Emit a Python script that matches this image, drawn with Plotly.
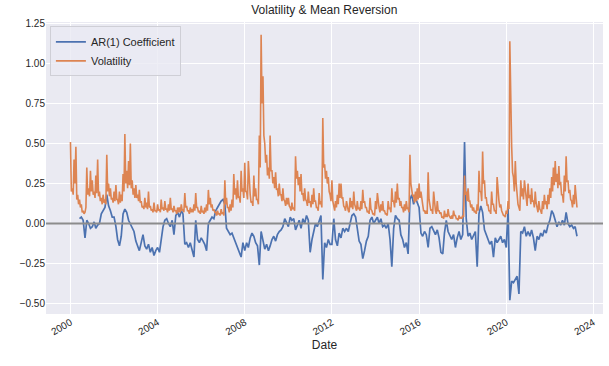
import pandas as pd
import plotly.graph_objects as go

# Monthly readings: band peaks at month start
vol_start = "2000-01-01"
volatility = [
    # 2000
    0.51, 0.22, 0.40, 0.48, 0.18, 0.15, 0.12, 0.08, 0.07, 0.35, 0.22, 0.33,
    # 2001
    0.27, 0.20, 0.30, 0.40, 0.20, 0.16, 0.18, 0.15, 0.43, 0.25, 0.22, 0.16,
    # 2002
    0.20, 0.24, 0.15, 0.20, 0.18, 0.31, 0.56, 0.33, 0.39, 0.50, 0.27, 0.22,
    # 2003
    0.24, 0.18, 0.21, 0.14, 0.11, 0.16, 0.13, 0.20, 0.11, 0.09, 0.13, 0.08,
    # 2004
    0.12, 0.09, 0.15, 0.10, 0.14, 0.09, 0.12, 0.16, 0.09, 0.11, 0.08, 0.10,
    # 2005
    0.10, 0.12, 0.09, 0.19, 0.11, 0.08, 0.10, 0.09, 0.12, 0.19, 0.10, 0.08,
    # 2006
    0.11, 0.08, 0.10, 0.12, 0.21, 0.16, 0.12, 0.09, 0.07, 0.08, 0.06, 0.09,
    # 2007
    0.07, 0.27, 0.16, 0.10, 0.12, 0.15, 0.31, 0.22, 0.27, 0.17, 0.33, 0.22,
    # 2008
    0.38, 0.20, 0.39, 0.18, 0.14, 0.30, 0.22, 0.15, 0.55, 1.18, 0.92, 0.50,
    # 2009
    0.43, 0.35, 0.55, 0.33, 0.29, 0.32, 0.22, 0.25, 0.18, 0.22, 0.14, 0.16,
    # 2010
    0.16, 0.10, 0.13, 0.10, 0.42, 0.33, 0.29, 0.31, 0.19, 0.22, 0.14, 0.20,
    # 2011
    0.14, 0.18, 0.22, 0.14, 0.10, 0.19, 0.14, 0.66, 0.37, 0.33, 0.29, 0.18,
    # 2012
    0.27, 0.10, 0.14, 0.18, 0.25, 0.25, 0.16, 0.10, 0.14, 0.08, 0.16, 0.14,
    # 2013
    0.20, 0.10, 0.14, 0.10, 0.14, 0.21, 0.14, 0.10, 0.08, 0.16, 0.08, 0.06,
    # 2014
    0.14, 0.19, 0.10, 0.12, 0.14, 0.08, 0.06, 0.14, 0.10, 0.22, 0.14, 0.20,
    # 2015
    0.25, 0.16, 0.14, 0.10, 0.12, 0.14, 0.10, 0.43, 0.22, 0.18, 0.20, 0.22,
    # 2016
    0.25, 0.20, 0.12, 0.08, 0.08, 0.32, 0.12, 0.09, 0.20, 0.08, 0.14, 0.08,
    # 2017
    0.07, 0.04, 0.08, 0.06, 0.09, 0.04, 0.05, 0.08, 0.05, 0.03, 0.05, 0.04,
    # 2018
    0.05, 0.30, 0.20, 0.22, 0.14, 0.12, 0.10, 0.08, 0.12, 0.33, 0.20, 0.45,
    # 2019
    0.27, 0.16, 0.12, 0.08, 0.20, 0.12, 0.08, 0.29, 0.14, 0.12, 0.06, 0.05,
    # 2020
    0.08, 0.14, 1.14, 0.48, 0.29, 0.39, 0.18, 0.10, 0.27, 0.22, 0.27, 0.16,
    # 2021
    0.25, 0.18, 0.22, 0.14, 0.20, 0.10, 0.14, 0.08, 0.14, 0.18, 0.14, 0.18,
    # 2022
    0.22, 0.29, 0.35, 0.39, 0.31, 0.36, 0.26, 0.18, 0.30, 0.42, 0.27, 0.21,
    # 2023
    0.14, 0.18, 0.24, 0.10,
]

# Mid-month readings of the lower edge of the volatility band
volatility_mid = [
    # 2000
    0.20, 0.18, 0.25, 0.15, 0.12, 0.10, 0.07, 0.06, 0.10, 0.18, 0.17, 0.20,
    # 2001
    0.18, 0.16, 0.19, 0.17, 0.14, 0.12, 0.13, 0.12, 0.20, 0.17, 0.15, 0.13,
    # 2002
    0.14, 0.15, 0.12, 0.13, 0.14, 0.20, 0.25, 0.22, 0.24, 0.22, 0.18, 0.16,
    # 2003
    0.16, 0.14, 0.13, 0.10, 0.09, 0.10, 0.09, 0.10, 0.08, 0.07, 0.08, 0.07,
    # 2004
    0.08, 0.07, 0.09, 0.08, 0.09, 0.07, 0.08, 0.09, 0.07, 0.08, 0.06, 0.07,
    # 2005
    0.07, 0.08, 0.07, 0.10, 0.08, 0.06, 0.07, 0.07, 0.08, 0.10, 0.07, 0.06,
    # 2006
    0.07, 0.06, 0.07, 0.08, 0.12, 0.10, 0.08, 0.07, 0.05, 0.06, 0.05, 0.06,
    # 2007
    0.05, 0.12, 0.10, 0.07, 0.08, 0.10, 0.18, 0.15, 0.16, 0.13, 0.20, 0.16,
    # 2008
    0.20, 0.15, 0.22, 0.13, 0.11, 0.17, 0.15, 0.12, 0.35, 0.75, 0.55, 0.38,
    # 2009
    0.30, 0.28, 0.33, 0.25, 0.22, 0.21, 0.17, 0.18, 0.14, 0.15, 0.11, 0.12,
    # 2010
    0.11, 0.08, 0.09, 0.08, 0.28, 0.24, 0.20, 0.18, 0.14, 0.15, 0.11, 0.13,
    # 2011
    0.10, 0.12, 0.14, 0.10, 0.08, 0.12, 0.10, 0.35, 0.28, 0.25, 0.20, 0.14,
    # 2012
    0.14, 0.08, 0.10, 0.12, 0.16, 0.16, 0.11, 0.08, 0.09, 0.07, 0.10, 0.09,
    # 2013
    0.12, 0.08, 0.09, 0.08, 0.09, 0.13, 0.10, 0.07, 0.06, 0.09, 0.06, 0.05,
    # 2014
    0.09, 0.11, 0.07, 0.08, 0.08, 0.06, 0.05, 0.09, 0.07, 0.14, 0.10, 0.13,
    # 2015
    0.15, 0.11, 0.10, 0.07, 0.08, 0.09, 0.07, 0.25, 0.17, 0.13, 0.14, 0.15,
    # 2016
    0.16, 0.13, 0.08, 0.06, 0.06, 0.15, 0.08, 0.06, 0.10, 0.06, 0.08, 0.06,
    # 2017
    0.04, 0.03, 0.04, 0.04, 0.05, 0.03, 0.03, 0.05, 0.03, 0.02, 0.03, 0.03,
    # 2018
    0.04, 0.18, 0.14, 0.14, 0.10, 0.08, 0.07, 0.06, 0.08, 0.20, 0.14, 0.25,
    # 2019
    0.16, 0.11, 0.08, 0.06, 0.12, 0.08, 0.06, 0.17, 0.10, 0.08, 0.05, 0.04,
    # 2020
    0.06, 0.09, 0.70, 0.32, 0.20, 0.25, 0.12, 0.08, 0.17, 0.15, 0.18, 0.11,
    # 2021
    0.16, 0.12, 0.14, 0.10, 0.13, 0.07, 0.09, 0.06, 0.09, 0.12, 0.09, 0.12,
    # 2022
    0.16, 0.20, 0.24, 0.26, 0.22, 0.24, 0.18, 0.13, 0.20, 0.26, 0.19, 0.15,
    # 2023
    0.10, 0.12, 0.15,
]

ar_start = "2000-06-01"
ar1_coef = [
    # 2000 (Jun-Dec)
    0.03, 0.04, 0.02, -0.09, 0.02, 0.00, -0.03,
    # 2001
    -0.02, 0.01, -0.03, -0.01, 0.00, 0.06, 0.08, 0.10, 0.18, 0.11, 0.08, 0.04,
    # 2002
    0.04, -0.02, -0.10, -0.14, -0.08, 0.06, 0.09, 0.07, 0.02, 0.00, -0.03, -0.05,
    # 2003
    -0.11, -0.15, -0.17, -0.12, -0.07, -0.14, -0.16, -0.13, -0.18, -0.15, -0.20, -0.17,
    # 2004
    -0.15, -0.18, -0.10, -0.02, 0.02, 0.03, 0.00, -0.02, 0.02, -0.07, 0.05, 0.07,
    # 2005
    0.04, 0.08, 0.06, -0.13, -0.12, -0.15, -0.12, -0.16, -0.21, 0.02, -0.10, -0.12,
    # 2006
    -0.09, -0.11, -0.13, -0.17, 0.00, 0.02, 0.04, 0.03, 0.08, 0.10, 0.12, 0.14,
    # 2007
    0.15, 0.12, -0.03, -0.05, -0.07, -0.06, -0.09, -0.13, -0.16, -0.19, -0.21, -0.12,
    # 2008
    -0.17, -0.12, -0.15, -0.09, -0.06, -0.08, -0.12, -0.14, -0.26, -0.05, -0.12, -0.16,
    # 2009
    -0.13, -0.17, -0.14, -0.10, -0.08, -0.11, -0.07, -0.05, -0.04, -0.02, 0.03, 0.01,
    # 2010
    -0.02, 0.04, 0.02, 0.03, -0.04, -0.01, 0.02, -0.03, 0.03, 0.00, 0.05, 0.02,
    # 2011
    -0.18, -0.10, -0.05, 0.00, -0.02, 0.02, 0.05, -0.35, -0.12, -0.15, -0.10, -0.13,
    # 2012
    -0.13, 0.03, -0.10, -0.14, -0.06, -0.09, -0.03, -0.05, -0.03, -0.05, 0.00, 0.05,
    # 2013
    0.06, 0.04, -0.03, -0.11, -0.13, -0.22, -0.17, -0.11, -0.08, 0.02, 0.04, 0.00,
    # 2014
    0.02, 0.04, 0.00, 0.03, -0.02, -0.01, -0.03, 0.00, -0.10, -0.27, -0.03, 0.05,
    # 2015
    0.03, 0.02, -0.07, -0.10, -0.15, -0.12, -0.19, 0.15, 0.18, 0.12, 0.16, 0.13,
    # 2016
    0.10, -0.06, -0.08, -0.05, -0.07, -0.15, -0.03, -0.02, -0.05, -0.07, -0.04, -0.09,
    # 2017
    -0.18, -0.19, -0.06, 0.02, -0.05, -0.08, -0.10, -0.07, -0.15, -0.09, -0.05, -0.10,
    # 2018
    -0.07, 0.51, 0.03, -0.08, -0.06, -0.10, -0.07, -0.05, -0.27, 0.06, 0.11, 0.07,
    # 2019
    -0.04, -0.07, -0.10, -0.13, -0.11, -0.21, -0.09, -0.12, -0.10, -0.08, -0.12, -0.10,
    # 2020
    -0.15, 0.10, -0.48, -0.36, -0.37, -0.35, -0.33, -0.44, -0.05, -0.06, -0.02, -0.08,
    # 2021
    -0.05, -0.08, -0.04, -0.09, -0.17, -0.08, -0.10, -0.06, -0.08, -0.04, -0.06, -0.01,
    # 2022
    0.02, 0.08, 0.06, 0.02, -0.02, 0.01, -0.01, 0.02, -0.01, 0.07, 0.00, -0.02,
    # 2023
    -0.01, -0.03, -0.02, -0.08,
]

y_ticks = [-0.50, -0.25, 0.00, 0.25, 0.50, 0.75, 1.00, 1.25]
x_tick_years = [2000, 2004, 2008, 2012, 2016, 2020, 2024]

# Combine month-start and mid-month readings in date order
vol_month_dates = pd.date_range(vol_start, periods=len(volatility), freq="MS")
vol_mid_dates = vol_month_dates[:len(volatility_mid)] + pd.Timedelta(days=15)
vol_series = pd.concat([
    pd.Series(volatility, index=vol_month_dates),
    pd.Series(volatility_mid, index=vol_mid_dates),
]).sort_index()

ar_dates = pd.date_range(ar_start, periods=len(ar1_coef), freq="MS")

BLUE = "#4C72B0"
ORANGE = "#DD8452"
TEXT = "#262626"
FONT = "Liberation Sans, Arial, sans-serif"

fig = go.Figure()
fig.add_trace(go.Scatter(x=ar_dates, y=ar1_coef, mode="lines", name="AR(1) Coefficient",
                         line=dict(color=BLUE, width=1.7)))
fig.add_trace(go.Scatter(x=vol_series.index, y=vol_series.values, mode="lines", name="Volatility",
                         line=dict(color=ORANGE, width=1.6)))
fig.add_hline(y=0, line=dict(color="#8c8c8c", width=2))

fig.update_layout(
    width=609, height=366,
    margin=dict(l=46, r=6, t=22, b=52),
    paper_bgcolor="white",
    plot_bgcolor="#EAEAF2",
    font=dict(family=FONT, size=10, color=TEXT),
    title=dict(text="Volatility & Mean Reversion", x=0.5325, xanchor="center",
               y=0.972, yanchor="middle", font=dict(size=12, color=TEXT)),
    showlegend=True,
    legend=dict(x=0.007, y=0.985, xanchor="left", yanchor="top",
                bgcolor="rgba(234,234,242,0.8)", bordercolor="#cfcfd6", borderwidth=1,
                font=dict(size=11, color=TEXT), tracegroupgap=0, itemwidth=30),
    xaxis=dict(
        type="date",
        range=["1998-11-17", "2024-06-10"],
        tickvals=[f"{y}-01-01" for y in x_tick_years],
        ticktext=[str(y) for y in x_tick_years],
        tickangle=-30,
        showgrid=True, gridcolor="white", gridwidth=1,
        zeroline=False, showline=False, ticks="",
        tickfont=dict(size=10, color=TEXT),
        title=dict(text="Date", font=dict(size=12, color=TEXT), standoff=4),
    ),
    yaxis=dict(
        range=[-0.566, 1.26],
        tickvals=y_ticks,
        tickformat=".2f",
        showgrid=True, gridcolor="white", gridwidth=1,
        zeroline=False, showline=False, ticks="",
        tickfont=dict(size=10, color=TEXT),
    ),
)

fig.write_html("out.html", config={"displayModeBar": False},
               post_script="document.body.style.margin='0';document.body.style.padding='0';")
